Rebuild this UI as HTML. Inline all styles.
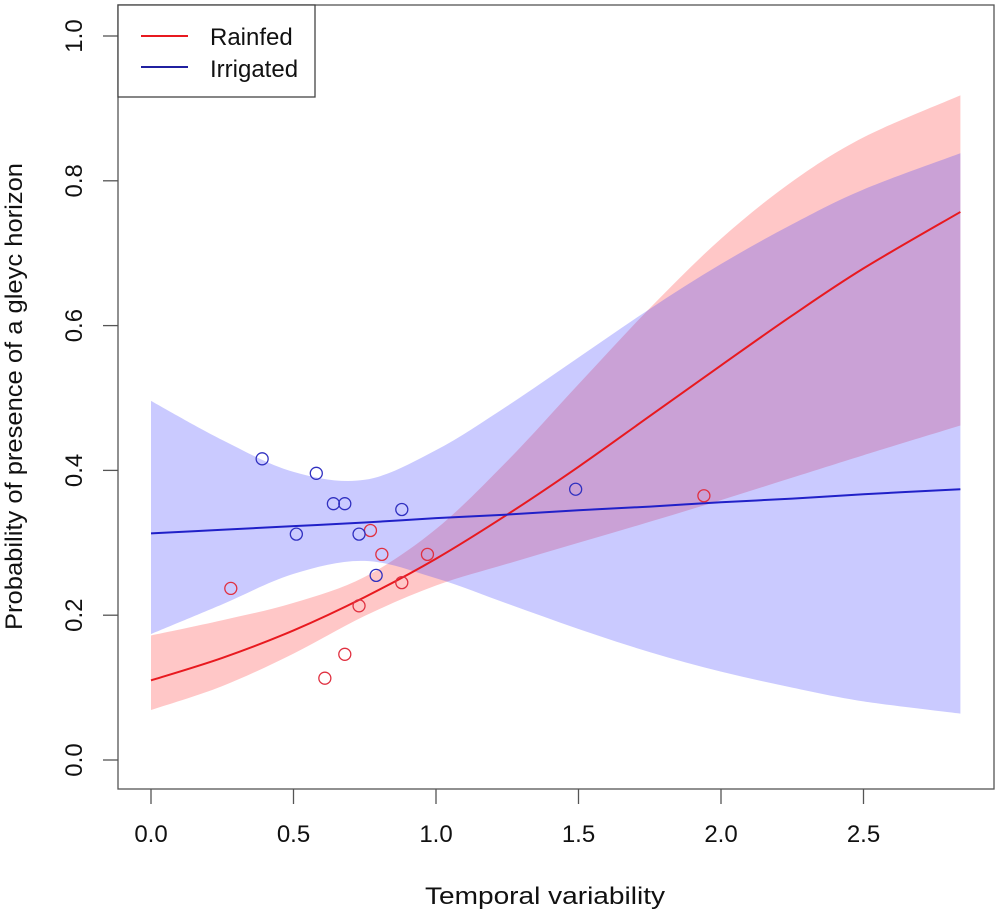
<!DOCTYPE html>
<html><head><meta charset="utf-8"><style>
body{margin:0;background:#fff}
svg{display:block;font-family:"Liberation Sans",sans-serif}
</style></head><body>
<svg id="chart" width="1000" height="913">
<g id="bands"></g><g id="lines"></g><g id="pts"></g><g id="axes"></g>
</svg>
<script>
const xGrid=[0,0.25,0.5,0.75,1.0,1.25,1.5,1.75,2.0,2.25,2.5,2.84];
const rainFit=[0.110,0.141,0.179,0.225,0.278,0.339,0.405,0.475,0.545,0.614,0.679,0.757];
const rainLo=[0.069,0.102,0.147,0.199,0.241,0.271,0.300,0.329,0.359,0.390,0.421,0.462];
const rainHi=[0.172,0.193,0.217,0.253,0.319,0.413,0.519,0.624,0.720,0.799,0.860,0.918];
const irrFit=[0.313,0.318,0.323,0.328,0.334,0.339,0.345,0.350,0.356,0.361,0.367,0.374];
const irrLo=[0.174,0.215,0.257,0.275,0.251,0.216,0.181,0.149,0.122,0.100,0.081,0.064];
const irrHi=[0.496,0.442,0.398,0.387,0.428,0.489,0.556,0.623,0.685,0.740,0.788,0.838];
const rainX=[0.28,0.61,0.68,0.73,0.77,0.81,0.88,0.97,1.94];
const rainY=[0.237,0.113,0.146,0.213,0.317,0.284,0.245,0.284,0.365];
const irrX=[0.39,0.51,0.58,0.64,0.68,0.73,0.79,0.88,1.49];
const irrY=[0.416,0.312,0.396,0.354,0.354,0.312,0.255,0.346,0.374];
const xTicks=[0,0.5,1.0,1.5,2.0,2.5];
const xTickLabels=["0.0","0.5","1.0","1.5","2.0","2.5"];
const yTicks=[0,0.2,0.4,0.6,0.8,1.0];
const yTickLabels=["0.0","0.2","0.4","0.6","0.8","1.0"];

const NS="http://www.w3.org/2000/svg";
const sx=v=>151+v*285, sy=v=>760-v*724;
function mk(tag,attrs,parent){const e=document.createElementNS(NS,tag);for(const k in attrs)e.setAttribute(k,attrs[k]);parent.appendChild(e);return e;}
function smooth(xs,ys){
  const P=xs.map((x,i)=>[sx(x),sy(ys[i])]);let d="";
  for(let i=0;i<P.length-1;i++){const p0=P[Math.max(0,i-1)],p1=P[i],p2=P[i+1],p3=P[Math.min(P.length-1,i+2)];
    const c1=[p1[0]+(p2[0]-p0[0])/6,p1[1]+(p2[1]-p0[1])/6],c2=[p2[0]-(p3[0]-p1[0])/6,p2[1]-(p3[1]-p1[1])/6];
    d+=(i?"":"M"+p1[0]+","+p1[1])+" C"+c1+" "+c2+" "+p2;}
  return d;}
function band(lo,hi){const f=smooth(xGrid,hi);const r=smooth(xGrid.slice().reverse(),lo.slice().reverse());
  return f+" L"+r.slice(1)+" Z";}
const B=document.getElementById('bands'),L=document.getElementById('lines'),Pg=document.getElementById('pts'),A=document.getElementById('axes');
let e;
e=mk('path',{d:band(rainLo,rainHi),fill:'rgba(255,40,40,0.26)'},B);


e=mk('path',{d:band(irrLo,irrHi),fill:'rgba(60,60,255,0.27)'},B);


e=mk('path',{d:smooth(xGrid,rainFit),fill:'none',stroke:'#e8191f','stroke-width':2},L);


e=mk('path',{d:smooth(xGrid,irrFit),fill:'none',stroke:'#2020c8','stroke-width':2},L);


rainX.forEach((x,i)=>{const c=mk('circle',{cx:sx(x),cy:sy(rainY[i]),r:6,fill:'none',stroke:'#e03040','stroke-width':1.3},Pg);

});
irrX.forEach((x,i)=>{const c=mk('circle',{cx:sx(x),cy:sy(irrY[i]),r:6,fill:'none',stroke:'#3030c0','stroke-width':1.3},Pg);

});
e=mk('rect',{x:118,y:5,width:876,height:784,fill:'none',stroke:'#555','stroke-width':1.3},A);


xTicks.forEach((t,i)=>{mk('line',{x1:sx(t),x2:sx(t),y1:789,y2:804,stroke:'#555','stroke-width':1.3},A);
const tx=mk('text',{x:sx(t),y:842,'text-anchor':'middle','font-size':24,fill:'#111'},A);tx.textContent=xTickLabels[i];

});
yTicks.forEach((t,i)=>{mk('line',{x1:103,x2:118,y1:sy(t),y2:sy(t),stroke:'#555','stroke-width':1.3},A);
const tx=mk('text',{x:0,y:0,'text-anchor':'middle','font-size':24,fill:'#111',transform:`translate(82,${sy(t)}) rotate(-90)`},A);tx.textContent=yTickLabels[i];

});
e=mk('text',{x:425,y:904,'font-size':24,fill:'#111',textLength:240,lengthAdjust:'spacingAndGlyphs'},A);e.textContent='Temporal variability';


e=mk('text',{x:0,y:0,'font-size':24,fill:'#111',textLength:467,lengthAdjust:'spacingAndGlyphs',transform:'translate(22,630) rotate(-90)'},A);e.textContent='Probability of presence of a gleyc horizon';


const lg=mk('g',{},A);


mk('rect',{x:118,y:5,width:197,height:92,fill:'#fff',stroke:'#444','stroke-width':1.3},lg);
mk('line',{x1:141,x2:188,y1:36,y2:36,stroke:'#e8191f','stroke-width':2},lg);
mk('line',{x1:141,x2:188,y1:67,y2:67,stroke:'#2020a0','stroke-width':2},lg);
e=mk('text',{x:210,y:45,'font-size':24,fill:'#111'},lg);e.textContent='Rainfed';


e=mk('text',{x:210,y:77,'font-size':24,fill:'#111'},lg);e.textContent='Irrigated';


</script>
</body></html>
